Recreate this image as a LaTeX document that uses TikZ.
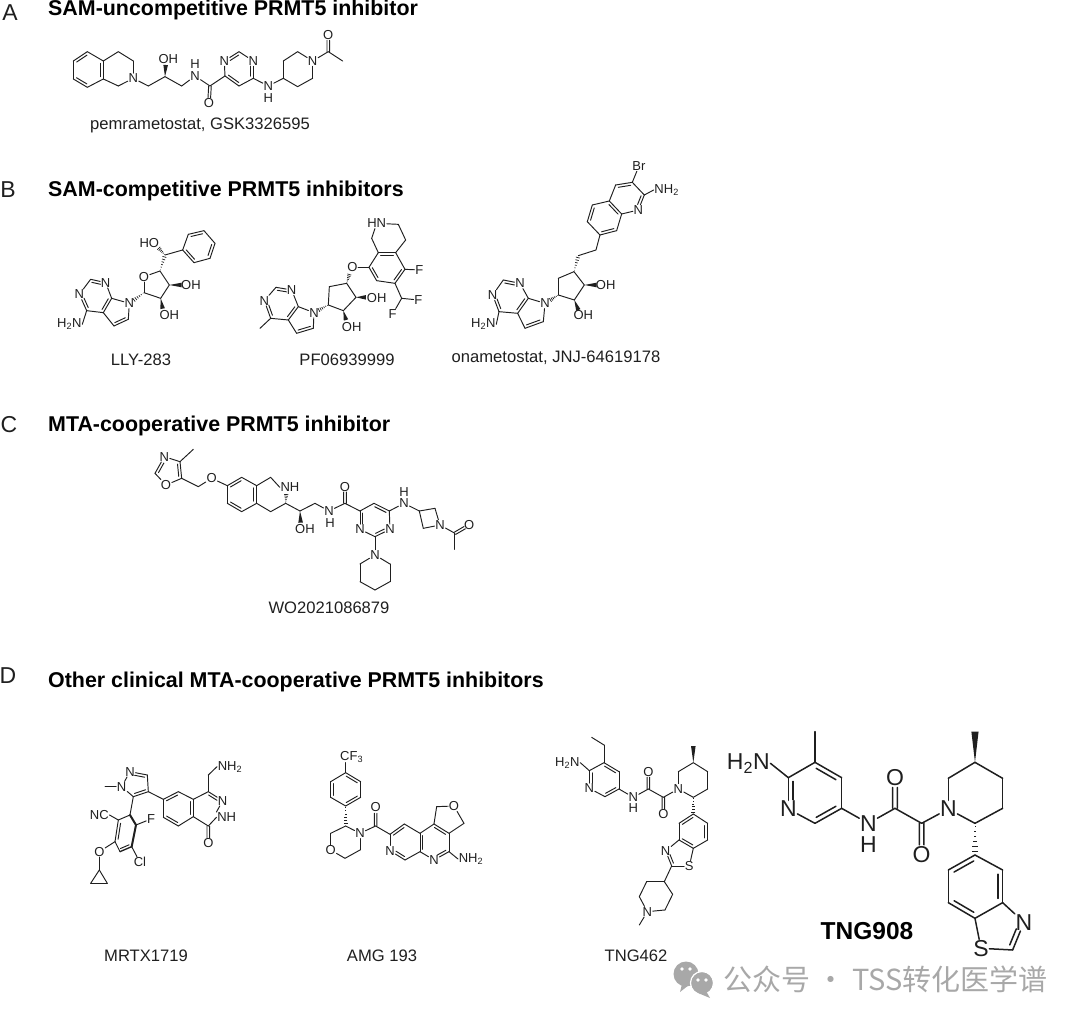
\documentclass[tikz,border=0pt]{standalone}
\usepackage{fontspec}
\setmainfont{Liberation Sans}
\newfontfamily\cjk{Noto Sans CJK SC}
\usetikzlibrary{calc}

\def\atomsize{13} % label size of the small molecules
\def\bondw{.95pt}
\def\dblgap{2.7pt}
\def\oxgap{1.3pt}
\def\wedgew{2.3pt}

\definecolor{ink}{gray}{.12}
\definecolor{markgray}{gray}{.66}

\tikzset{
    zoomed/.style 2 args={shift={(#1,#2)}, x=.3333pt, y=-.3333pt},
    atom/.style={inner sep=.6pt, text=ink, font=\fontsize{\atomsize}{\atomsize}\selectfont},
    bond/.style={draw=ink, line width=\bondw, line cap=round, line join=round},
    panel/.style={inner sep=0pt, text=ink, font=\fontsize{23}{23}\selectfont},
    heading/.style={anchor=west, inner sep=0pt, text=black, font=\bfseries\fontsize{21.4}{21.4}\selectfont},
    caption/.style={inner sep=0pt, text=ink, font=\fontsize{16.6}{16.6}\selectfont}
}

\newcommand{\atomset}[2]{\foreach \n/\x/\y in {#2} \coordinate (#1\n) at (\x,\y);}
\newcommand{\labelset}[2]{\foreach \n/\x/\y/\lab in {#2} \node[atom] (#1\n) at (\x,\y) {\lab};}
\newcommand{\bondset}[2]{\foreach \p/\q in {#2} \draw[bond] (#1\p) -- (#1\q);}
% inner line of a ring bond, on the left of p -> q
\newcommand{\dblset}[2]{\foreach \p/\q in {#2}
    \draw[bond] ($(#1\p)!.13!(#1\q)!\dblgap!90:(#1\q)$) -- ($(#1\p)!.87!(#1\q)!\dblgap!90:(#1\q)$);}
% same for a bond that ends on a lettered atom q, \s picks the side
\newcommand{\dblnset}[2]{\foreach \p/\q/\s in {#2}
    \draw[bond] ($(#1\p)!.12!(#1\q)!\dblgap!\s:(#1\q)$) -- ($(#1\p)!.7!(#1\q)!\dblgap!\s:(#1\q)$);}
\newcommand{\oxset}[2]{\foreach \p/\q in {#2} {
    \draw[bond] ($(#1\p)!\oxgap!90:(#1\q)$) -- ($(#1\p)!.68!(#1\q)!\oxgap!90:(#1\q)$);
    \draw[bond] ($(#1\p)!\oxgap!-90:(#1\q)$) -- ($(#1\p)!.68!(#1\q)!\oxgap!-90:(#1\q)$);}}
\newcommand{\wedgeset}[2]{\foreach \p/\q in {#2}
    \fill[ink] (#1\p) -- ($(#1\q)!\wedgew!90:(#1\p)$) -- ($(#1\q)!\wedgew!-90:(#1\p)$) -- cycle;}
\newcommand{\hashset}[2]{\foreach \p/\q in {#2}
    \foreach \u in {.08,.24,.4,.56,.72,.88} {
        \pgfmathsetlengthmacro\hw{\u*\wedgew}
        \draw[ink, line width=.7pt] ($(#1\p)!\u!(#1\q)!\hw!90:(#1\q)$) -- ($(#1\p)!\u!(#1\q)!\hw!-90:(#1\q)$);
    }}

\begin{document}
\begin{tikzpicture}[x=1pt, y=-1pt]
    \useasboundingbox (0,0) rectangle (1080,1022);

    \node[panel] (panelA) at (10,13) {A};
    \node[panel] (panelB) at (8,190) {B};
    \node[panel] (panelC) at (9,425) {C};
    \node[panel] (panelD) at (8,676) {D};
    \node[heading] (headA) at (48,10) {SAM-uncompetitive PRMT5 inhibitor};
    \node[heading] (headB) at (48,191) {SAM-competitive PRMT5 inhibitors};
    \node[heading] (headC) at (48,426) {MTA-cooperative PRMT5 inhibitor};
    \node[heading] (headD) at (48,682) {Other clinical MTA-cooperative PRMT5 inhibitors};

    \node[caption] (capPem) at (200,125) {pemrametostat, GSK3326595};
    \node[caption] (capLly) at (141,360) {LLY-283};
    \node[caption] (capPf) at (347,360) {PF06939999};
    \node[caption] (capOna) at (556,358) {onametostat, JNJ-64619178};
    \node[caption] (capWo) at (329,608) {WO2021086879};
    \node[caption] (capMrt) at (146,956) {MRTX1719};
    \node[caption] (capAmg) at (382,956) {AMG 193};
    \node[caption] (capTs) at (636,956) {TNG462};
    \node[inner sep=0pt, text=black, font=\bfseries\fontsize{24.5}{24.5}\selectfont] (capTg) at (867,931) {TNG908};

    % pemrametostat
    \begin{scope}[zoomed={0}{0}]
        \atomset{pem}{1/262/155, 2/310/183, 3/310/237, 4/262/262, 5/220/237, 6/220/183, 7/355/155, 8/400/183,
            10/355/258, 11/445/258, 12/495/230, 13/545/258, 15/630/258, 17/675/228, 19/717/155, 21/760/235,
            22/717/258, 24/850/235, 25/850/183, 26/893/155, 28/938/235, 29/893/260, 30/985/155, 32/1028/183, t/497/195}
        \labelset{pem}{n1/400/235/N, n2/585/228/N, h2/585/193/H, o1/627/310/O, n3/673/183/N, n4/760/183/N,
            n5/805/258/N, h5/805/293/H, n6/938/183/N, o2/985/105/O, oh/505/178/OH}
        \bondset{pem}{1/2, 2/3, 3/4, 4/5, 5/6, 6/1, 2/7, 7/8, 8/n1, n1/10, 10/3, n1/11, 11/12, 12/13, 13/n2,
            n2/15, 15/17, 17/n3, n3/19, 19/n4, n4/21, 21/22, 22/17, 21/n5, n5/24, 24/25, 25/26, 26/n6, n6/28,
            28/29, 29/24, n6/30, 30/32}
        \dblset{pem}{1/6, 5/4, 3/2, 17/22}
        \dblnset{pem}{19/n3/90, 21/n4/90}
        \oxset{pem}{15/o1, 30/o2}
        \wedgeset{pem}{12/t}
    \end{scope}

    % LLY-283
    \begin{scope}[zoomed={40}{190}]
        \atomset{lly}{c2/152/268, c7a/215/325, c4a/190/368, c4/140/362, c8/265/388, c7/222/408, c1p/312/308, c4p/360/243,
            c3p/388/285, c2p/362/325, c5p/375/195, p1/428/180, p2/445/133, p3/492/122, p4/525/160, p5/510/205, p6/462/218,
            t1/425/285, t2/368/356, t3/354/172, t4/278/333}
        \labelset{lly}{nl/118/313/N, nt/197/278/N, n9/268/340/N, o/312/260/O, oh1/453/285/OH, oh2/388/375/OH,
            ho/328/158/HO, hn/88/403/H\textsubscript{2}N}
        \bondset{lly}{nl/c2, c2/nt, nt/c7a, c7a/c4a, c4a/c4, c4/nl, c7a/n9, n9/c8, c8/c7, c7/c4a, c1p/o, o/c4p, c4p/c3p,
            c3p/c2p, c2p/c1p, c5p/p1, p1/p2, p2/p3, p3/p4, p4/p5, p5/p6, p6/p1, c4/hn.east}
        \dblset{lly}{c4a/c7a, c7/c8, p3/p2, p5/p4, p1/p6}
        \dblnset{lly}{c2/nt/-90, c4/nl/-90}
        \wedgeset{lly}{c3p/t1, c2p/t2}
        \hashset{lly}{c1p/t4, c4p/c5p, c5p/t3}
    \end{scope}

    % PF06939999
    \begin{scope}[zoomed={250}{190}]
        \atomset{pf}{c2/78/292, c4/62/385, c4a/115/390, c7a/145/350, c8/190/415, c7/140/430, me/30/415, r1/235/345, r2/238/290,
            r3/290/280, r4/318/322, r5/280/362, a1/357/232, a2/385/188, a3/437/188, a4/465/238, a5/435/280, a6/380/272,
            s1/365/145, s3/445/103, s4/467/150, cf/455/325, t1/348/322, t2/288/390, t3/299/250, t4/203/362}
        \labelset{pf}{nt/125/300/N, nl/43/332/N, n9/192/368/N, oh1/380/323/OH, oh2/305/410/OH, o/307/232/O, hn/380/100/HN,
            f1/508/240/F, f2/505/330/F, f3/428/372/F}
        \bondset{pf}{nl/c2, c2/nt, nt/c7a, c7a/c4a, c4a/c4, c4/nl, c4/me, c7a/n9, n9/c8, c8/c7, c7/c4a, r1/r2, r2/r3, r3/r4,
            r4/r5, r5/r1, o/a1, a1/a2, a2/a3, a3/a4, a4/a5, a5/a6, a6/a1, a2/s1, s1/hn, hn/s3, s3/s4, s4/a3, a4/f1, a5/cf,
            cf/f2, cf/f3}
        \dblset{pf}{c4a/c7a, c7/c8, a3/a2, a1/a6, a5/a4}
        \dblnset{pf}{c2/nt/-90, c4/nl/-90}
        \wedgeset{pf}{r4/t1, r5/t2}
        \hashset{pf}{r1/t4, r3/t3}
    \end{scope}

    % onametostat
    \begin{scope}[zoomed={450}{140}]
        \atomset{ona}{c3/547/127, c2/583/165, c8a/515/222, c4a/478/183, c4/497/135, c5/427/195, c6/412/245, c7/450/285,
            c8/500/272, e1/438/330, e2/385/347, ra/372/395, rb/325/415, rc/325/465, rd/373/480, re/403/435, t1/440/435,
            t2/385/510, t3/298/482, p2/160/420, p4/147/515, p4a/203/520, p7a/235/475, p8/280/545, p7/225/565}
        \labelset{ona}{br/567/78/Br, nh/650/150/NH\textsubscript{2}, n/565/210/N, oh1/467/435/OH, oh2/400/525/OH,
            n9/285/490/N, nt/210/430/N, nl/128/465/N, hn/100/553/H\textsubscript{2}N}
        \bondset{ona}{c3/c2, c2/n, n/c8a, c8a/c4a, c4a/c4, c4/c3, c4a/c5, c5/c6, c6/c7, c7/c8, c8/c8a, c3/br, c2/nh.west,
            c7/e1, e1/e2, ra/rb, rb/rc, rc/rd, rd/re, re/ra, n9/p7a, p7a/nt, nt/p2, p2/nl, nl/p4, p4/p4a, p4a/p7a,
            n9/p8, p8/p7, p7/p4a, p4/hn.east}
        \dblset{ona}{c3/c4, c8a/c4a, c5/c6, c7/c8, p4a/p7a, p7/p8}
        \dblnset{ona}{c2/n/-90, p2/nt/-90, p4/nl/-90}
        \wedgeset{ona}{re/t1, rd/t2}
        \hashset{ona}{ra/e2, rc/t3}
    \end{scope}

    % WO2021086879
    \begin{scope}[zoomed={130}{440}]
        \atomset{wo}{x2/75/100, x5/155/115, x4/150/65, me/190/28, ch/205/140, b1/292/137, b2/335/112, b3/380/137, b4/380/190,
            b5/335/215, b6/292/190, t1/422/112, t3/467/190, t4/422/215, c1/510/213, c2/555/190, c3/645/190, d1/690/213,
            d2/732/190, d3/778/213, d5/735/290, z1/868/213, z2/915/205, z4/880/265, k1/975/280, k2/975/328, q1/780/372,
            q2/780/425, q3/735/450, q4/690/425, q5/690/372, t5/469/160, t6/512/248}
        \labelset{wo}{nx/103/50/N, ox/108/135/O, o1/245/115/O, nh/480/142/NH, oh/525/268/OH, n1/597/213/N, h1/600/250/H,
            o2/645/140/O, n2/690/268/N, n3/780/268/N, n4/822/190/N, h4/822/155/H, n5/930/255/N, o3/1018/255/O, n6/735/345/N}
        \bondset{wo}{nx/x2, x2/ox, ox/x5, x5/x4, x4/nx, x4/me, x5/ch, ch/o1, o1/b1, b1/b2, b2/b3, b3/b4, b4/b5, b5/b6, b6/b1,
            b3/t1, t1/nh.west, t3/t4, t4/b4, t3/c1, c1/c2, c2/n1, n1/c3, c3/d1, d1/d2, d2/d3, d3/n3, n3/d5, d5/n2,
            n2/d1, d3/n4, n4/z1, z1/z2, z2/n5, n5/z4, z4/z1, n5/k1, k1/k2, d5/n6, n6/q1, q1/q2, q2/q3, q3/q4,
            q4/q5, q5/n6}
        \dblset{wo}{x5/x4, b2/b1, b4/b3, b6/b5, d3/d2}
        \dblnset{wo}{x2/nx/-90, d1/n2/90, d5/n3/90}
        \oxset{wo}{c3/o2, k1/o3}
        \wedgeset{wo}{c1/t6}
        \hashset{wo}{t3/t5}
    \end{scope}

    % MRTX1719
    \begin{scope}[zoomed={70}{740}]
        \atomset{mrt}{b1/280/178, b2/325/155, b3/370/178, b4/370/230, b5/325/258, b6/280/232, k1/415/155, k4/415/258, ch/415/105,
            z3/232/105, z4/235/155, z5/190/170, me/105/140, a1/180/225, a2/198/255, a3/185/320, a4/150/335, a5/135/305,
            a6/145/240, y1/88/390, y2/62/430, y3/112/430}
        \labelset{mrt}{n1/458/182/N, nh/470/232/NH, o1/415/310/O, nh2/480/80/NH\textsubscript{2}, n2/180/95/N, n3/155/140/N,
            nc/88/225/NC, f/243/237/F, cl/210/367/Cl, o2/88/335/O}
        \bondset{mrt}{b1/b2, b2/b3, b3/b4, b4/b5, b5/b6, b6/b1, b3/k1, k1/n1, n1/nh.north west, nh.west/k4, k4/b4, k1/ch, ch/nh2.west,
            b1/z4, z4/z3, z3/n2, n2/n3, n3/z5, z5/z4, n3/me, z5/a1, a1/a6, a6/a5, a5/a4, a6/nc.east, a2/f, a3/cl, a5/o2,
            o2/y1, y1/y2, y2/y3, y3/y1}
        \dblset{mrt}{b2/b1, b4/b3, b6/b5, z5/z4, a6/a5, a4/a3}
        \dblnset{mrt}{k1/n1/-90, z3/n2/90}
        \oxset{mrt}{k4/o1}
        \draw[bond, line width=2pt] (mrta1) -- (mrta2) -- (mrta3);
        \draw[bond, line width=1.3pt] (mrta3) -- (mrta4);
    \end{scope}

    % AMG 193
    \begin{scope}[zoomed={310}{740}]
        \atomset{amg}{a1/107/98, a2/152/125, a3/152/172, a4/107/198, a5/62/172, a6/62/125, t/107/68, m1/107/258, m3/150/330,
            m4/105/355, m6/62/280, k/197/258, p1/240/283, p2/283/252, p3/330/280, p4/330/335, p5/285/360, r2/372/252,
            r3/417/280, r4/417/335, f1/380/200, f3/462/250}
        \labelset{amg}{cf/125/50/CF\textsubscript{3}, n1/150/280/N, o1/62/330/O, o2/197/202/O, n2/240/332/N, n3/372/360/N,
            o3/432/198/O, nh/483/357/NH\textsubscript{2}}
        \bondset{amg}{t/a1, a1/a2, a2/a3, a3/a4, a4/a5, a5/a6, a6/a1, m1/n1, n1/m3, m3/m4, m4/o1, o1/m6, m6/m1, n1/k, k/p1,
            p1/p2, p2/p3, p3/p4, p4/p5, p5/n2, n2/p1, p3/r2, r2/r3, r3/r4, r4/n3, n3/p4, r2/f1, f1/o3, o3/f3, f3/r3, r4/nh.west}
        \dblset{amg}{a6/a5, a2/a1, a4/a3, p2/p1, p3/p4, r3/r2}
        \dblnset{amg}{p5/n2/-90, r4/n3/-90}
        \oxset{amg}{k/o2}
        \hashset{amg}{a4/m1}
    \end{scope}

    % TNG462
    \begin{scope}[zoomed={550}{740}]
        \atomset{ts}{q1/162/68, q2/207/95, q3/207/147, q4/165/170, q6/118/92, e1/162/15, e2/125/-8, k1/295/147, k2/340/172,
            s2/385/95, s3/430/68, s4/473/95, s5/473/147, s6/430/172, w/430/18, t/430/222, b2/473/250, b3/473/300, b4/430/325,
            b5/387/300, b6/387/250, h1/365/378, i1/343/425, i2/368/463, i3/345/510, i5/268/470, i6/290/425, me/268/555}
        \labelset{ts}{hn/52/68/H\textsubscript{2}N, n1/118/145/N, n2/250/172/N, h2/250/205/H, o1/295/95/O, o2/340/222/O,
            n3/385/147/N, n4/347/333/N, s/418/378/S, n5/292/515/N}
        \bondset{ts}{q1/q2, q2/q3, q3/q4, q4/n1, n1/q6, q6/q1, q6/hn.east, q1/e1, e1/e2, q3/n2, n2/k1, k1/k2, k2/n3,
            n3/s2, s2/s3, s3/s4, s4/s5, s5/s6, s6/n3, t/b2, b2/b3, b3/b4, b4/b5, b5/b6, b6/t, b5/n4, n4/h1, h1/s, s/b4,
            h1/i1, i1/i2, i2/i3, i3/n5, n5/i5, i5/i6, i6/i1, n5/me}
        \dblset{ts}{q2/q1, q4/q3, t/b6, b3/b2, b5/b4}
        \dblnset{ts}{q6/n1/90, h1/n4/-90}
        \oxset{ts}{k1/o1, k2/o2}
        \wedgeset{ts}{s3/w}
        \hashset{ts}{s6/t}
    \end{scope}

    % TNG908
    \begin{scope}[zoomed={720}{730}]
        \def\atomsize{23}
        \def\bondw{1.5pt}
        \def\dblgap{4.6pt}
        \def\oxgap{2.3pt}
        \def\wedgew{3.6pt}
        \atomset{tg}{q1/285/97, q2/365/143, q3/365/235, q4/285/280, q6/205/143, me/285/5, k1/525/235, k2/605/280, s2/685/145,
            s3/765/97, s4/848/145, s5/848/235, s6/765/280, w/765/5, t/765/375, b2/848/420, b3/848/518, b4/765/565, b5/685/518,
            b6/685/420, h1/878/660}
        \labelset{tg}{hn/85/100/H\textsubscript{2}N, n1/205/237/N, n2/445/280/N, h2/445/343/H, o1/525/143/O, o2/605/375/O,
            n3/685/237/N, n4/912/577/N, s/783/655/S}
        \bondset{tg}{q1/q2, q2/q3, q3/q4, q4/n1, n1/q6, q6/q1, q6/hn.east, q1/me, q3/n2, n2/k1, k1/k2, k2/n3, n3/s2,
            s2/s3, s3/s4, s4/s5, s5/s6, s6/n3, t/b2, b2/b3, b3/b4, b4/b5, b5/b6, b6/t, b3/n4, n4/h1, h1/s, s/b4}
        \dblset{tg}{q2/q1, q4/q3, t/b6, b3/b2, b5/b4}
        \dblnset{tg}{q6/n1/90, h1/n4/90}
        \oxset{tg}{k1/o1, k2/o2}
        \wedgeset{tg}{s3/w}
        \hashset{tg}{s6/t}
    \end{scope}

    % watermark
    \fill[markgray] (682,984) -- (680,992) -- (689,985) -- cycle;
    \fill[markgray] (686,974) circle[radius=12.5];
    \filldraw[fill=markgray, draw=white, line width=1.2pt] (702,983) circle[radius=11.5];
    \fill[markgray] (706,991) -- (710,998) -- (698,993) -- cycle;
    \foreach \x/\y in {682/969, 690/969, 698/980, 706/980}
        \fill[white] (\x,\y) circle[radius=1.8];
    \node[anchor=west, inner sep=0pt, text=markgray, font=\cjk\fontsize{29}{29}\selectfont] (mark) at (723,979)
        {公众号 · TSS转化医学谱};
\end{tikzpicture}
\end{document}
